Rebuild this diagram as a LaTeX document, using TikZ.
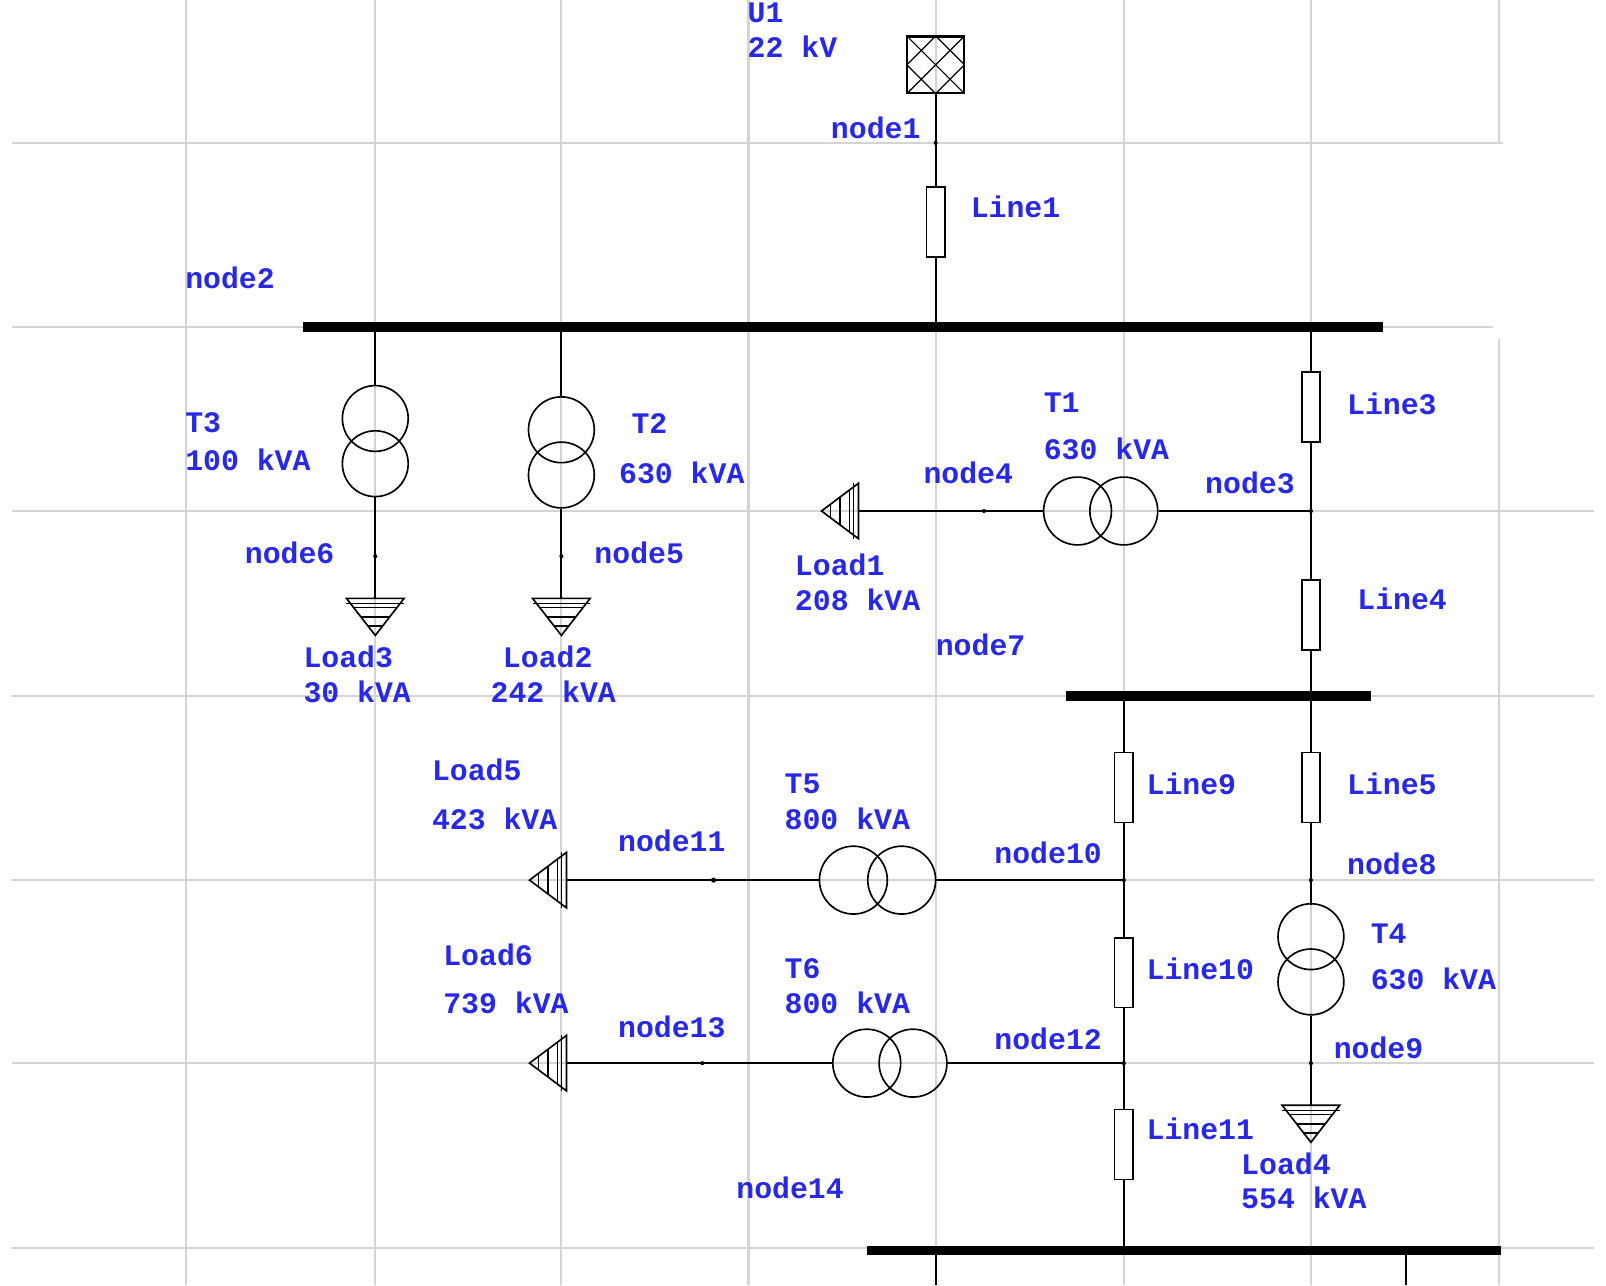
\documentclass[tikz,border=0pt]{standalone}
\usepackage{fontspec}
\usetikzlibrary{calc}
\setmonofont{Liberation Mono}
\definecolor{lblue}{RGB}{40,40,235}
\definecolor{gridc}{RGB}{212,212,212}
\begin{document}
\begin{tikzpicture}[x=1pt,y=-1pt,
  lbl/.style={anchor=west,inner sep=0pt,text=lblue,font=\ttfamily\bfseries\fontsize{29}{31}\selectfont},
  wire/.style={line width=2pt},
  busbar/.style={line width=9pt},
  gridl/.style={gridc,line width=2pt},
  dotn/.style={circle,fill=black,inner sep=0pt,minimum size=4pt},
  linebox/.style={draw,line width=1.6pt,fill=white,minimum width=18pt,minimum height=68pt,inner sep=0pt},
  wind/.style={draw,line width=1.6pt,circle,minimum size=64pt,inner sep=0pt}]
\useasboundingbox (0,0) rectangle (1562,1250);
% grid
\foreach \x in {181,365,546,728,910,1093,1275}{\draw[gridl] (\x,0) -- (\x,1250);}
\draw[gridl] (1458,0) -- (1458,140); \draw[gridl] (1458,330) -- (1458,1250);
\draw[gridl] (12,139) -- (1462,139);
\draw[gridl] (12,318) -- (1452,318);
\foreach \y in {497,677,856,1034,1214}{\draw[gridl] (12,\y) -- (1550,\y);}
% coordinates
\coordinate (n1) at (910,139);
\coordinate (b2) at (910,318);
\coordinate (n3) at (1275,497);
\coordinate (n10) at (1093,856);
\coordinate (n12) at (1093,1034);
\coordinate (n8) at (1275,856);
\coordinate (n9) at (1275,1034);
% source U1
\node[draw,line width=2pt,minimum size=55pt,inner sep=0pt] (U1) at (910,63) {};
\begin{scope}
\clip (U1.south west) rectangle (U1.north east);
\foreach \d in {-56,-28,0,28,56}{
 \draw[line width=1.2pt] ($(U1.center)+(\d-28,-28)$) -- ++(56,56);
 \draw[line width=1.2pt] ($(U1.center)+(\d-28,28)$) -- ++(56,-56);}
\end{scope}
% buses
\draw[busbar] (295,318) coordinate (bus2w) -- (1345,318) coordinate (bus2e);
\draw[busbar] (1037,677) -- (1333,677);
\draw[busbar] (843,1216) -- (1460,1216);
% line1
\node[linebox] (L1) at (910,216) {};
\draw[wire] (U1.south) -- (L1.north) (L1.south) -- (b2);
\node[dotn] at (n1) {};
% T3
\node[wind] (T3a) at (365,407) {}; \node[wind] (T3b) at (365,451) {};
\draw[wire] (365,318) -- (T3a.north) (T3b.south) -- (365,582);
\node[dotn] (n6) at (365,541) {};
% T2
\node[wind] (T2a) at (546,418) {}; \node[wind] (T2b) at (546,462) {};
\draw[wire] (546,318) -- (T2a.north) (T2b.south) -- (546,582);
\node[dotn] (n5) at (546,541) {};
% loads (downward)
\foreach \x/\yt in {365/582,546/582,1275/1075}{
 \draw[line width=1.6pt] (\x-28,\yt) -- (\x+28,\yt) -- (\x,\yt+36) -- cycle;
 \foreach \f in {0.25,0.5,0.75}{\draw[line width=1.4pt] (\x-28+28*\f,\yt+36*\f) -- (\x+28-28*\f,\yt+36*\f);}
 \draw[line width=1.6pt] (\x-28,\yt+5) -- (\x+28,\yt+5);
}
% loads (leftward)
\foreach \xb/\y in {835/497,551/856,551/1034}{
 \draw[line width=1.6pt] (\xb,\y-27) -- (\xb,\y+27) -- (\xb-36,\y) -- cycle;
 \foreach \f in {0.25,0.5,0.75}{\draw[line width=1.4pt] (\xb-36*\f,\y-27+27*\f) -- (\xb-36*\f,\y+27-27*\f);}
 \draw[line width=1.6pt] (\xb-5,\y-27) -- (\xb-5,\y+27);
}
% Line3, Line4, T1
\node[linebox] (L3) at (1275,396) {};
\node[linebox] (L4) at (1275,598) {};
\draw[wire] (1275,318) -- (L3.north) (L3.south) -- (L4.north) (L4.south) -- (1275,677);
\node[dotn] at (n3) {};
\node[wind,minimum size=66pt] (T1a) at (1048,497) {}; \node[wind,minimum size=66pt] (T1b) at (1093,497) {};
\draw[wire] (n3) -- (T1b.east) (T1a.west) -- (835,497);
\node[dotn] (n4) at (957,497) {};
% Line9, Line10, Line11
\node[linebox] (L9) at (1093,766) {};
\node[linebox] (L10) at (1093,946) {};
\node[linebox] (L11) at (1093,1113) {};
\draw[wire] (1093,677) -- (L9.north) (L9.south) -- (L10.north) (L10.south) -- (L11.north) (L11.south) -- (1093,1216);
\node[dotn] at (n10) {}; \node[dotn] at (n12) {};
% T5
\node[wind,minimum size=66pt] (T5a) at (830,856) {}; \node[wind,minimum size=66pt] (T5b) at (877,856) {};
\draw[wire] (n10) -- (T5b.east) (T5a.west) -- (551,856);
\node[dotn,minimum size=5pt] (n11) at (694,856) {};
% T6
\node[wind,minimum size=66pt] (T6a) at (843,1034) {}; \node[wind,minimum size=66pt] (T6b) at (888,1034) {};
\draw[wire] (n12) -- (T6b.east) (T6a.west) -- (551,1034);
\node[dotn] (n13) at (683,1034) {};
% Line5, T4
\node[linebox] (L5) at (1275,766) {};
\draw[wire] (1275,677) -- (L5.north) (L5.south) -- (1275,880);
\node[dotn] at (n8) {};
\node[wind] (T4a) at (1275,911) {}; \node[wind] (T4b) at (1275,955) {};
\draw[wire] (T4b.south) -- (1275,1075);
\node[dotn] at (n9) {};
% below bus 14
\draw[wire] (910,1216) -- (910,1250);
\draw[wire] (1367,1216) -- (1367,1250);
% labels
\foreach \x/\y/\t in {727/12/U1, 727/45/22 kV, 808/124/node1, 944/201/Line1, 180/270/node2,
 180/411/T3, 180/447/100 kVA, 614/412/T2, 602/460/630 kVA, 238/538/node6, 578/538/node5,
 295/639/Load3, 295/673/30 kVA, 489/639/Load2, 477/673/242 kVA, 1015/392/T1, 1015/437/630 kVA,
 898/460/node4, 1172/470/node3, 1310/393/Line3, 773/549/Load1, 773/583/208 kVA, 910/627/node7,
 1320/582/Line4, 420/749/Load5, 420/796/423 kVA, 763/762/T5, 763/796/800 kVA, 601/818/node11,
 967/829/node10, 1115/762/Line9, 1310/762/Line5, 1310/840/node8, 431/929/Load6, 431/975/739 kVA,
 763/942/T6, 763/975/800 kVA, 601/999/node13, 967/1010/node12, 1115/942/Line10, 1333/908/T4,
 1333/952/630 kVA, 1297/1019/node9, 1115/1098/Line11, 1207/1132/Load4, 1207/1165/554 kVA, 716/1155/node14}
 {\node[lbl] at (\x,\y) {\t};}
\end{tikzpicture}
\end{document}
